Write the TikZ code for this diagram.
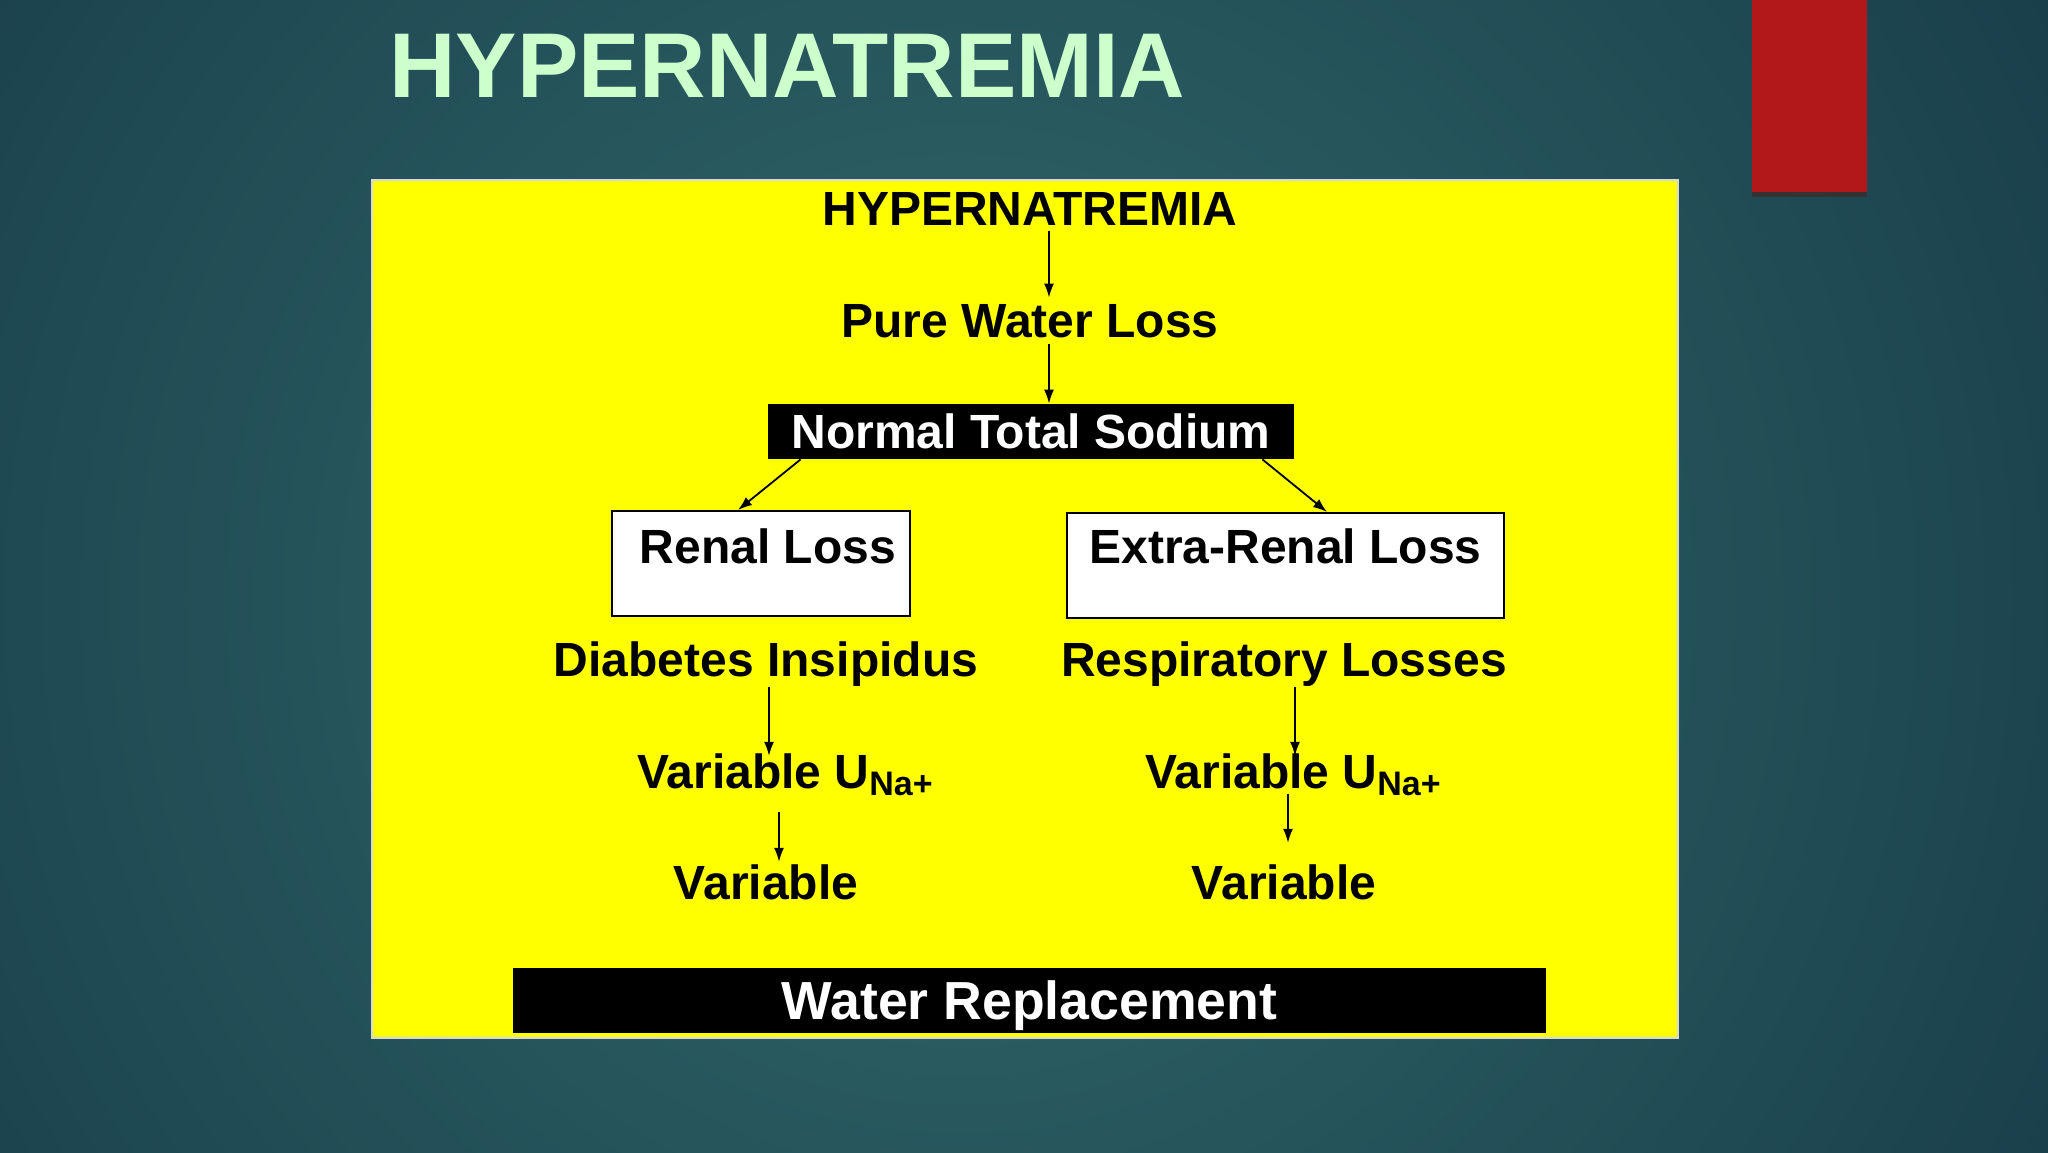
\documentclass[tikz,border=0pt]{standalone}
\usepackage{fontspec}
\setmainfont{Liberation Sans}
\usetikzlibrary{arrows.meta,calc}
\definecolor{bgout}{RGB}{20,54,68}
\definecolor{bgin}{RGB}{50,106,108}
\definecolor{titlegreen}{RGB}{204,255,204}
\definecolor{barred}{RGB}{176,24,26}
\definecolor{panelyellow}{RGB}{255,255,0}
\tikzset{
  txt/.style={font=\fontsize{24}{28}\selectfont\bfseries, inner sep=3pt, anchor=base},
  blackbox/.style={fill=black, text=white, font=\fontsize{24}{28}\selectfont\bfseries, inner sep=0pt, text depth=0pt},
  wbox/.style={draw=black, fill=white, line width=1pt, inner sep=0pt, font=\fontsize{24}{28}\selectfont\bfseries},
  arr/.style={-{Latex[length=7pt,width=5pt]}, line width=0.9pt}
}
\begin{document}
\begin{tikzpicture}[x=0.5pt,y=-0.5pt]
\useasboundingbox (0,0) rectangle (2048,1152);
\fill[bgout] (0,0) rectangle (2048,1152);
\begin{scope}
\clip (0,0) rectangle (2048,1152);
\shade[inner color=bgin, outer color=bgout] (960,600) circle (1500);
\end{scope}
% red bar
\fill[black!80] (1752,0) rectangle (1867,197);
\fill[barred] (1752,0) rectangle (1867,192);
% title
\node[font=\fontsize{46}{50}\selectfont\bfseries, text=titlegreen, anchor=base west, inner sep=0pt] (title) at (389,97) {HYPERNATREMIA};
% panel
\node[fill=panelyellow, draw=white!85!black, line width=0.8pt, minimum width=653pt, minimum height=429pt, inner sep=0pt, anchor=north west] (panel) at (371,179) {};
% nodes
\node[txt] (h) at (1030,225) {HYPERNATREMIA};
\node[txt] (p) at (1030,337) {Pure Water Loss};
\node[blackbox, minimum width=263pt, minimum height=27.5pt] (n) at (1031,431.5) {Normal Total Sodium};
\node[wbox, minimum width=149pt, minimum height=52.5pt, text height=26pt, text depth=26.5pt, anchor=north] (rl) at (761,510) {\hspace*{7pt}Renal Loss};
\node[wbox, minimum width=218.5pt, minimum height=52.5pt, text height=25pt, text depth=27.5pt, anchor=north] (er) at (1285.5,512) {Extra-Renal Loss};
\node[txt] (di) at (766,676) {Diabetes Insipidus};
\node[txt] (ro) at (1284,676) {Respiratory Losses};
\node[txt] (vul) at (785,788) {Variable U\raisebox{-3.5pt}{\fontsize{17}{17}\selectfont Na+}};
\node[txt] (vur) at (1293,788) {Variable U\raisebox{-3.5pt}{\fontsize{17}{17}\selectfont Na+}};
\node[txt] (vl) at (766,899) {Variable};
\node[txt] (vr) at (1284,899) {Variable};
\node[blackbox, font=\fontsize{26.8}{30}\selectfont\bfseries, minimum width=516.5pt, minimum height=32.5pt] (wr) at (1029.5,1000.5) {Water Replacement};
% guide coordinates
\coordinate (x1) at (1049,0);
\coordinate (x2) at (769,0);
\coordinate (x3) at (1295,0);
\coordinate (x4) at (779,0);
\coordinate (x5) at (1288,0);
% connectors
\draw[arr] (h.south -| x1) -- (p.north -| x1);
\draw[arr] (p.south -| x1) -- (n.north -| x1);
\draw[arr] ([xshift=16.5pt]n.south west) -- ([xshift=-11.5pt]rl.north);
\draw[arr] ([xshift=-16pt]n.south east) -- ([xshift=20.75pt]er.north);
\draw[arr, shorten <=-2.5pt, shorten >=-4.5pt] (di.south -| x2) -- (vul.north -| x2);
\draw[arr, shorten <=-2.5pt, shorten >=-4.5pt] (ro.south -| x3) -- (vur.north -| x3);
\draw[arr, shorten <=5pt, shorten >=-2pt] (vul.south -| x4) -- (vl.north -| x4);
\draw[arr, shorten <=-4pt, shorten >=7.5pt] (vur.south -| x5) -- (vr.north -| x5);
\end{tikzpicture}
\end{document}
